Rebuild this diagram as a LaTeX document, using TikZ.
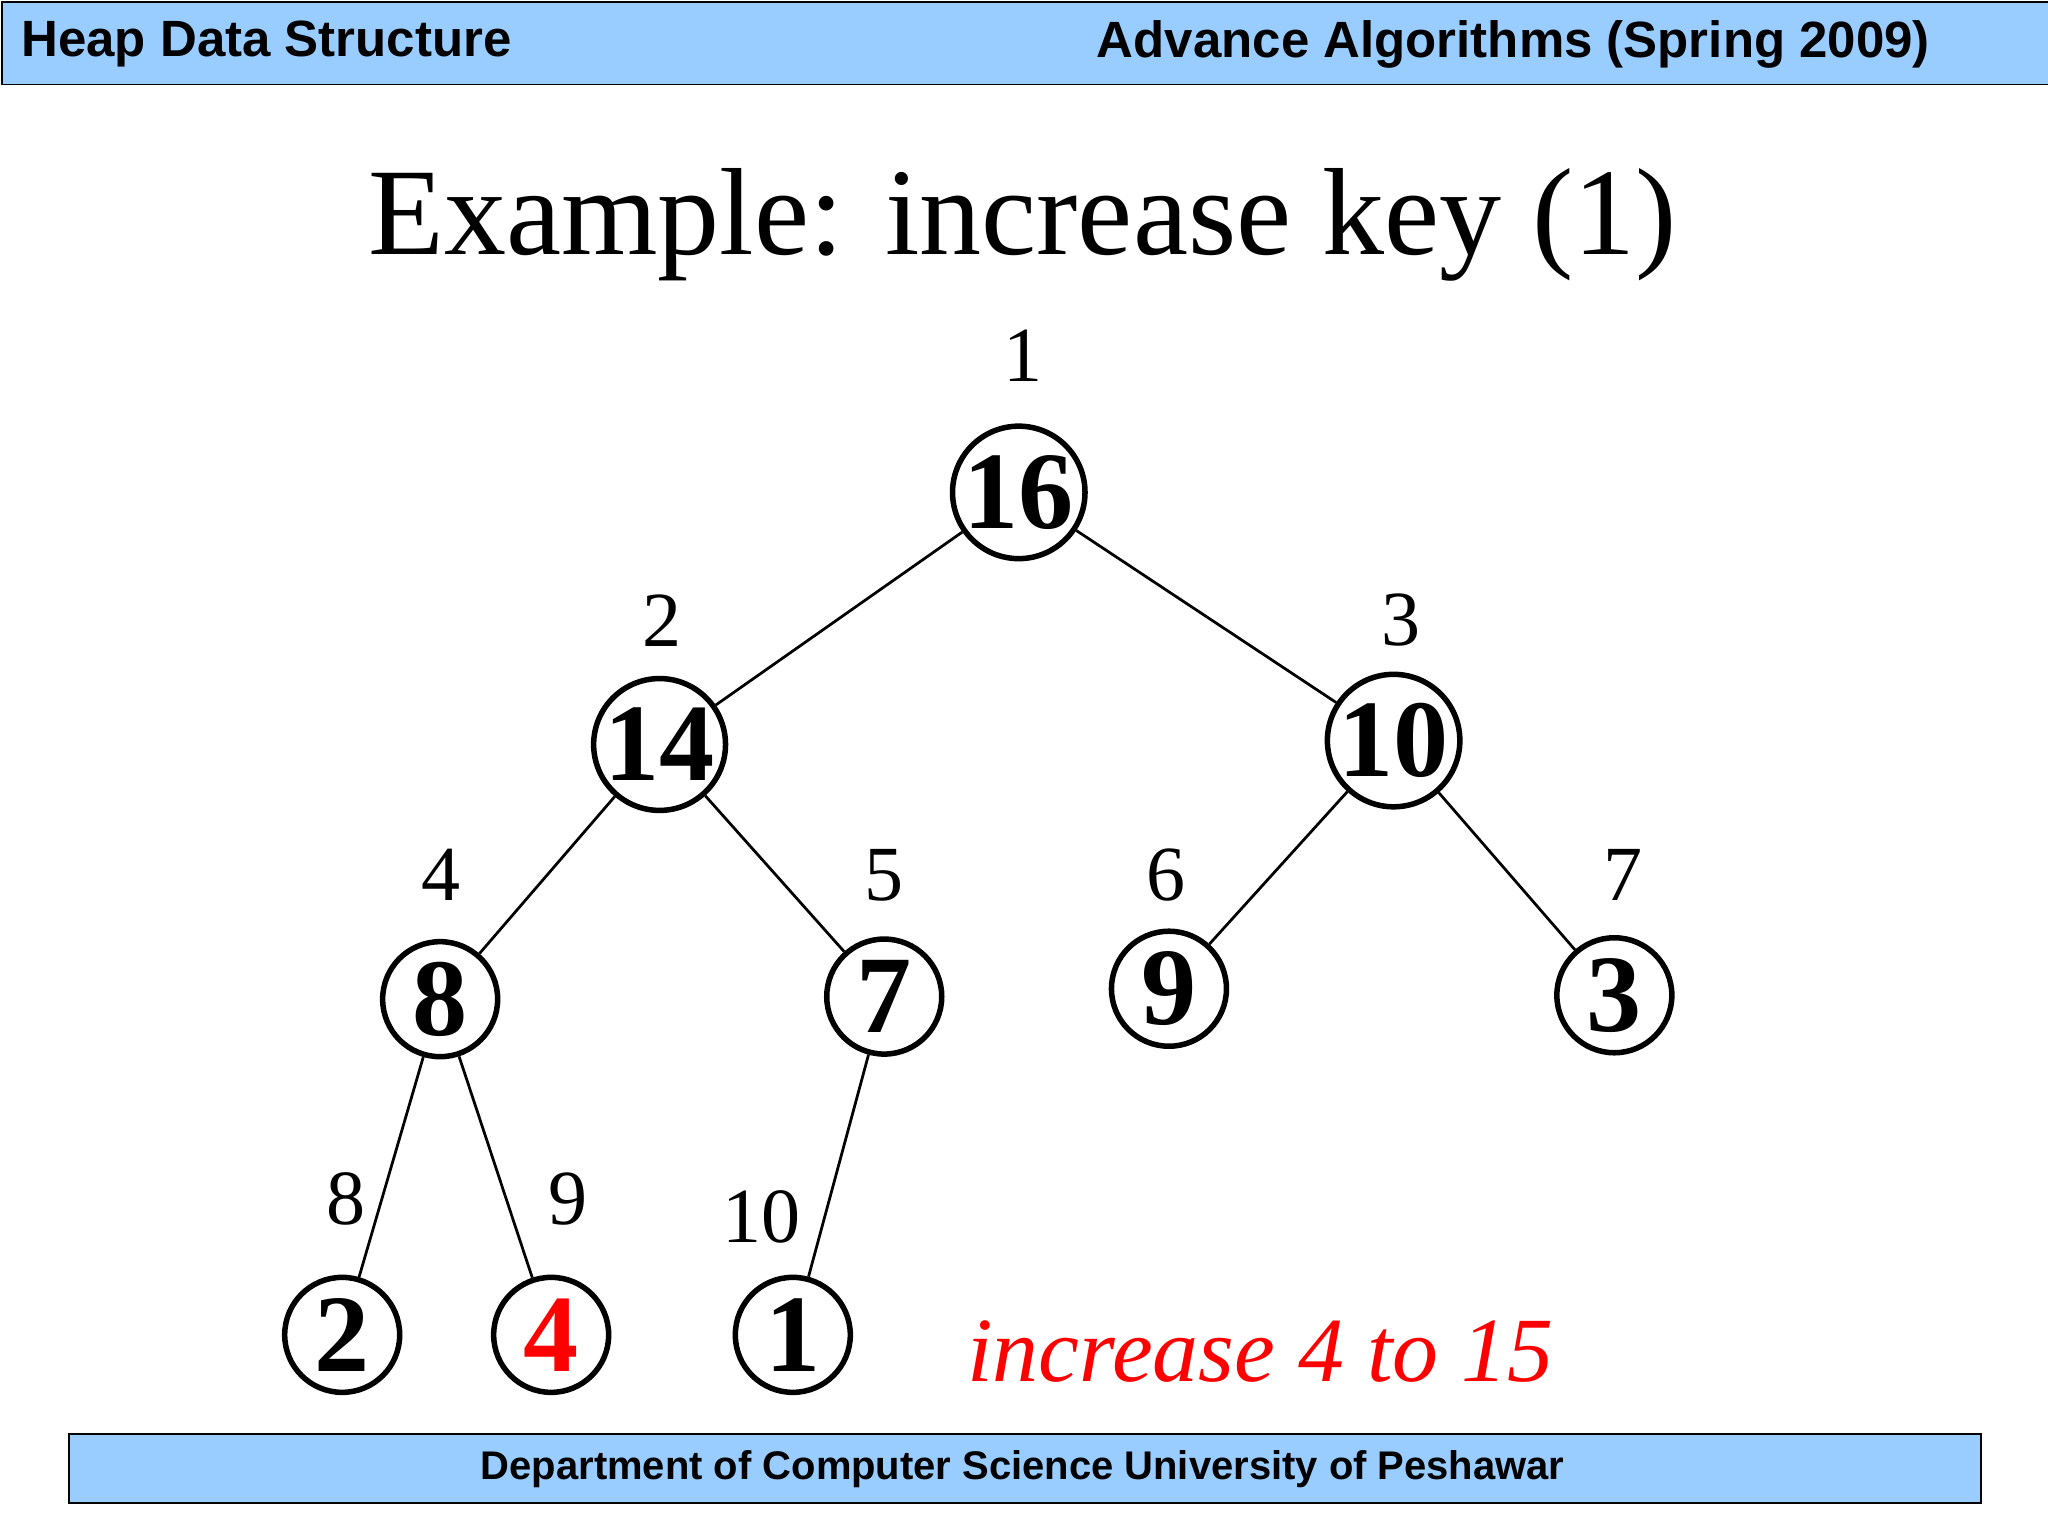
\documentclass[tikz,border=0pt]{standalone}
\usepackage{fontspec}
\setmainfont{Liberation Serif}
\newfontfamily\hdr{Liberation Sans}
\definecolor{barblue}{HTML}{99CCFF}
\begin{document}
\begin{tikzpicture}[x=0.01cm,y=-0.01cm,
  hnode/.style={circle,draw,line width=1.2pt,minimum size=0.88cm,inner sep=0pt,font=\fontsize{24}{24}\selectfont\bfseries},
  idx/.style={font=\fontsize{17}{17}\selectfont},
  edge/.style={line width=0.6pt}]
\useasboundingbox (0,0) rectangle (1568,1176);
\node[draw,fill=barblue,minimum width=15.66cm,minimum height=0.63cm,anchor=north west,inner sep=0pt] (top) at (1,1) {};
\node[anchor=west,font=\hdr\fontsize{11.1}{12}\selectfont\bfseries] (tl) at (4,34) {Heap Data Structure};
\node[anchor=east,font=\hdr\fontsize{11.1}{12}\selectfont\bfseries] (tr) at (1490,34) {Advance Algorithms (Spring 2009)};
\node[font=\fontsize{27}{28}\selectfont] (title) at (783,172) {Example: increase key (1)};
\node[hnode] (n16) at (780,377) {16};
\node[hnode] (n14) at (505,570) {14};
\node[hnode] (n10) at (1067,567) {10};
\node[hnode] (n8) at (337,765) {8};
\node[hnode] (n7) at (677,763) {7};
\node[hnode] (n9) at (895,757) {9};
\node[hnode] (n3) at (1236,762) {3};
\node[hnode] (n2) at (262,1022) {2};
\node[hnode,text=red] (n4) at (422,1022) {4};
\node[hnode] (n1) at (607,1022) {1};
\foreach \a/\b in {n16/n14,n16/n10,n14/n8,n14/n7,n10/n9,n10/n3,n8/n2,n8/n4,n7/n1}
  \draw[edge] (\a) -- (\b);
\node[idx] (i1) at (783,272) {1};
\node[idx] (i2) at (507,475) {2};
\node[idx] (i3) at (1073,475) {3};
\node[idx] (i4) at (338,670) {4};
\node[idx] (i5) at (677,670) {5};
\node[idx] (i6) at (893,670) {6};
\node[idx] (i7) at (1243,670) {7};
\node[idx] (i8) at (265,918) {8};
\node[idx] (i9) at (435,918) {9};
\node[idx] (i10) at (583,932) {10};
\node[text=red,font=\fontsize{20}{22}\selectfont\itshape] (msg) at (965,1035) {increase 4 to 15};
\node[draw,fill=barblue,minimum width=14.63cm,minimum height=0.53cm,anchor=north west,inner sep=0pt] (bot) at (52,1097) {};
\node[font=\hdr\fontsize{8.7}{11}\selectfont\bfseries] (bt) at (783,1125) {Department of Computer Science University of Peshawar};
\end{tikzpicture}
\end{document}
